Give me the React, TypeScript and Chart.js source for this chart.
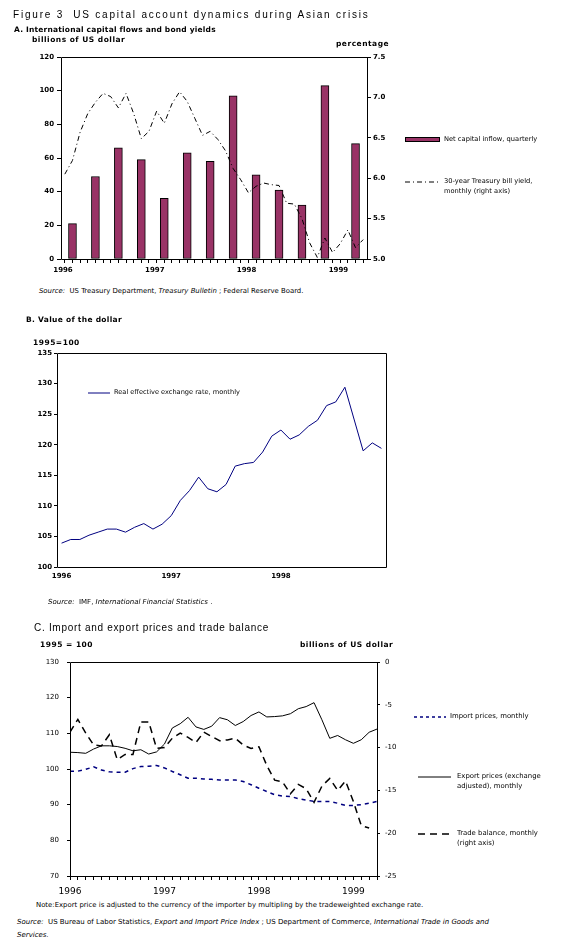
import React, { useEffect, useRef } from 'react';
import { Chart, registerables } from 'chart.js';

Chart.register(...registerables);

const SANS = "'DejaVu Sans', 'Liberation Sans', sans-serif";
const ARIAL = "'Liberation Sans', Arial, sans-serif";

// ---------- Panel A: capital inflows (quarterly bars) and 30-year yield (monthly) ----------
const A_YEAR_LABELS = ['1996', '1997', '1998', '1999'];
// month index counted from January 1996
const A_BAR_MONTHS = [1, 4, 7, 10, 13, 16, 19, 22, 25, 28, 31, 34, 38];
const A_NET_INFLOW = [21, 49, 66, 59, 36, 63, 58, 97, 50, 41, 32, 103, 68.5];
const A_BOND_YIELD = [
  6.05, 6.22, 6.57, 6.8, 6.94, 7.05, 7.01, 6.87, 7.05, 6.8, 6.49, 6.58,
  6.83, 6.68, 6.92, 7.07, 6.95, 6.74, 6.53, 6.58, 6.48, 6.34, 6.12, 5.98,
  5.82, 5.9, 5.94, 5.92, 5.91, 5.69, 5.68, 5.5, 5.2, 5.02, 5.26, 5.08,
  5.19, 5.36, 5.14, 5.24,
];

// ---------- Panel B: real effective exchange rate (monthly, 1996-1998) ----------
const B_YEAR_LABELS = ['1996', '1997', '1998'];
const B_REER = [
  103.9, 104.5, 104.5, 105.2, 105.7, 106.2, 106.2, 105.7, 106.5, 107.1, 106.2, 107.0,
  108.4, 110.9, 112.5, 114.7, 112.8, 112.3, 113.5, 116.5, 116.9, 117.1, 118.8, 121.4,
  122.4, 120.9, 121.6, 123.0, 124.0, 126.4, 127.0, 129.4, 124.2, 119.0, 120.3, 119.4,
];

// ---------- Panel C: import / export prices and trade balance ----------
const C_YEAR_LABELS = ['1996', '1997', '1998', '1999'];
const C_IMPORT = [
  99.4, 99.4, 99.9, 100.6, 99.7, 99.2, 99.1, 99.1, 100.1, 100.7, 100.8, 101.0,
  100.3, 99.3, 98.4, 97.4, 97.4, 97.2, 97.1, 96.9, 96.9, 96.9, 96.5, 95.6,
  94.6, 93.7, 92.8, 92.4, 92.3, 91.7, 91.3, 90.9, 90.9, 90.9, 90.4, 89.8,
  89.8, 90.0, 90.4, 90.9,
];
const C_EXPORT = [
  104.7, 104.6, 104.4, 105.6, 106.5, 106.5, 106.3, 105.8, 105.1, 105.4, 104.2, 104.8,
  107.0, 111.5, 112.7, 114.5, 111.8, 111.1, 112.0, 114.4, 113.8, 112.2, 113.3, 115.0,
  116.0, 114.6, 114.7, 114.9, 115.5, 116.9, 117.5, 118.6, 113.8, 108.6, 109.4, 108.2,
  107.2, 108.2, 110.3, 111.2,
];
const C_TRADE = [
  -8.2, -6.7, -8.3, -9.7, -9.8, -8.5, -11.4, -10.8, -10.8, -7.0, -7.0, -10.1,
  -10.0, -8.9, -8.3, -8.8, -9.4, -8.2, -8.7, -9.2, -9.1, -8.9, -9.7, -10.1,
  -9.9, -12.1, -13.8, -14.0, -15.4, -14.3, -14.8, -16.4, -14.5, -13.6, -15.0, -13.9,
  -16.3, -19.1, -19.4,
];

const framePlugin = {
  id: 'frame',
  afterDraw(chart: any) {
    const { ctx, chartArea: a } = chart;
    const al = (v: number) => Math.round(v - 0.5) + 0.5;
    ctx.save();
    ctx.strokeStyle = '#000';
    ctx.lineWidth = 1;
    ctx.beginPath();
    ctx.rect(al(a.left), al(a.top), al(a.right) - al(a.left), al(a.bottom) - al(a.top));
    ctx.stroke();
    ctx.restore();
  },
};

const baseOpts = {
  responsive: false,
  maintainAspectRatio: false,
  animation: false,
  devicePixelRatio: 1,
  events: [] as any[],
  plugins: { legend: { display: false }, tooltip: { enabled: false } },
};

const tickGrid = (len: number) => ({
  display: true,
  drawOnChartArea: false,
  drawTicks: true,
  tickLength: len,
  color: '#000',
  lineWidth: 1,
});

function makeA(canvas: HTMLCanvasElement) {
  const boundaries: number[] = [];
  for (let k = 0; k <= 40; k++) boundaries.push(k - 0.5);
  return new Chart(canvas, {
    type: 'bar',
    data: {
      datasets: [
        {
          type: 'line',
          label: '30-year Treasury bill yield, monthly (right axis)',
          data: A_BOND_YIELD.map((v, i) => ({ x: i, y: v })),
          yAxisID: 'y1',
          borderColor: '#000',
          borderWidth: 1,
          borderDash: [5, 3, 1, 3],
          pointRadius: 0,
          fill: false,
          tension: 0,
          order: 1,
        } as any,
        {
          type: 'bar',
          label: 'Net capital inflow, quarterly',
          data: A_BAR_MONTHS.map((m, i) => ({ x: m, y: A_NET_INFLOW[i] })),
          yAxisID: 'y',
          backgroundColor: '#993366',
          borderColor: '#000',
          borderWidth: 1,
          borderSkipped: false,
          barThickness: 8,
          grouped: false,
          order: 2,
        } as any,
      ],
    },
    options: {
      ...baseOpts,
      layout: { padding: { top: 57, left: 0, right: 0, bottom: 0 } },
      scales: {
        x: {
          type: 'linear',
          min: -0.5,
          max: 39.5,
          offset: false,
          afterBuildTicks: (s: any) => {
            s.ticks = boundaries.map((v) => ({ value: v }));
          },
          afterFit: (s: any) => {
            s.height = 26;
          },
          ticks: {
            autoSkip: false,
            maxRotation: 0,
            minRotation: 0,
            labelOffset: 2,
            padding: 3,
            color: '#000',
            font: { family: SANS, size: 7, weight: 'bold' },
            callback: (v: any) => {
              const k = Math.round(Number(v) + 0.5);
              return k % 12 === 0 && k / 12 < A_YEAR_LABELS.length ? A_YEAR_LABELS[k / 12] : '';
            },
          },
          grid: tickGrid(4),
          border: { display: false },
        },
        y: {
          type: 'linear',
          position: 'left',
          min: 0,
          max: 120,
          afterFit: (s: any) => {
            s.width = 61;
          },
          ticks: { stepSize: 20, padding: 3, color: '#000', font: { family: SANS, size: 7, weight: 'bold' } },
          grid: tickGrid(4),
          border: { display: false },
        },
        y1: {
          type: 'linear',
          position: 'right',
          min: 5,
          max: 7.5,
          afterFit: (s: any) => {
            s.width = 202;
          },
          ticks: {
            stepSize: 0.5,
            padding: 2,
            color: '#000',
            font: { family: SANS, size: 7, weight: 'bold' },
            callback: (v: any) => Number(v).toFixed(1),
          },
          grid: tickGrid(4),
          border: { display: false },
        },
      },
    } as any,
    plugins: [framePlugin],
  });
}

function makeB(canvas: HTMLCanvasElement) {
  const labels = B_REER.map((_, i) => (i % 12 === 0 ? B_YEAR_LABELS[i / 12] : ''));
  return new Chart(canvas, {
    type: 'line',
    data: {
      labels,
      datasets: [
        {
          label: 'Real effective exchange rate, monthly',
          data: B_REER,
          borderColor: '#000080',
          borderWidth: 1,
          pointRadius: 0,
          fill: false,
          tension: 0,
        },
      ],
    },
    options: {
      ...baseOpts,
      layout: { padding: { top: 53, left: 0, right: 183, bottom: 0 } },
      scales: {
        x: {
          type: 'category',
          offset: true,
          afterFit: (s: any) => {
            s.height = 23;
          },
          ticks: {
            autoSkip: false,
            maxRotation: 0,
            minRotation: 0,
            padding: 5,
            color: '#000',
            font: { family: SANS, size: 7, weight: 'bold' },
          },
          grid: { display: false, drawTicks: false, tickLength: 0 },
          border: { display: false },
        },
        y: {
          min: 100,
          max: 135,
          afterFit: (s: any) => {
            s.width = 57;
          },
          ticks: { stepSize: 5, padding: 2, color: '#000', font: { family: SANS, size: 7, weight: 'bold' } },
          grid: tickGrid(3),
          border: { display: false },
        },
      },
    } as any,
    plugins: [framePlugin],
  });
}

function makeC(canvas: HTMLCanvasElement) {
  const monthTicks: number[] = [];
  for (let k = 0; k < C_EXPORT.length; k++) monthTicks.push(k);
  return new Chart(canvas, {
    type: 'line',
    data: {
      datasets: [
        {
          label: 'Import prices, monthly',
          data: C_IMPORT.map((v, i) => ({ x: i, y: v })),
          yAxisID: 'y',
          borderColor: '#000080',
          borderWidth: 1.5,
          borderDash: [4, 4],
          pointRadius: 0,
          fill: false,
          tension: 0,
        },
        {
          label: 'Export prices (exchange adjusted), monthly',
          data: C_EXPORT.map((v, i) => ({ x: i, y: v })),
          yAxisID: 'y',
          borderColor: '#000',
          borderWidth: 1,
          pointRadius: 0,
          fill: false,
          tension: 0,
        },
        {
          label: 'Trade balance, monthly (right axis)',
          data: C_TRADE.map((v, i) => ({ x: i, y: v })),
          yAxisID: 'y1',
          borderColor: '#000',
          borderWidth: 1.5,
          borderDash: [7, 5],
          pointRadius: 0,
          fill: false,
          tension: 0,
        },
      ],
    },
    options: {
      ...baseOpts,
      layout: { padding: { top: 62, left: 0, right: 0, bottom: 0 } },
      scales: {
        x: {
          type: 'linear',
          min: 0,
          max: 39,
          offset: false,
          afterBuildTicks: (s: any) => {
            s.ticks = monthTicks.map((v) => ({ value: v }));
          },
          afterFit: (s: any) => {
            s.height = 24;
          },
          ticks: {
            autoSkip: false,
            maxRotation: 0,
            minRotation: 0,
            padding: 6,
            color: '#000',
            font: { family: SANS, size: 9 },
            callback: (v: any) => {
              const k = Math.round(Number(v));
              return k % 12 === 0 && k / 12 < C_YEAR_LABELS.length ? C_YEAR_LABELS[k / 12] : '';
            },
          },
          grid: tickGrid(4),
          border: { display: false },
        },
        y: {
          type: 'linear',
          position: 'left',
          min: 70,
          max: 130,
          afterFit: (s: any) => {
            s.width = 70;
          },
          ticks: { stepSize: 10, padding: 8, color: '#000', font: { family: SANS, size: 7 } },
          grid: tickGrid(3),
          border: { display: false },
        },
        y1: {
          type: 'linear',
          position: 'right',
          min: -25,
          max: 0,
          afterFit: (s: any) => {
            s.width = 192;
          },
          ticks: { stepSize: 5, padding: 5, color: '#000', font: { family: SANS, size: 7 } },
          grid: tickGrid(3),
          border: { display: false },
        },
      },
    } as any,
    plugins: [framePlugin],
  });
}

type TxtProps = {
  x: number;
  cy: number;
  size: number;
  bold?: boolean;
  family?: string;
  spacing?: number;
  children: React.ReactNode;
};

const Txt = ({ x, cy, size, bold, family, spacing, children }: TxtProps) => (
  <div
    style={{
      position: 'absolute',
      left: x,
      top: cy - size * 0.52,
      fontSize: size,
      lineHeight: `${size}px`,
      fontFamily: family || SANS,
      fontWeight: bold ? 'bold' : 'normal',
      letterSpacing: spacing ? `${spacing}px` : undefined,
      whiteSpace: 'nowrap',
      color: '#000',
    }}
  >
    {children}
  </div>
);

const Line = ({ x, y, w, color, width, dash }: { x: number; y: number; w: number; color: string; width: number; dash?: string }) => (
  <svg style={{ position: 'absolute', left: x, top: y - 3 }} width={w} height={6}>
    <line x1={0} y1={3} x2={w} y2={3} stroke={color} strokeWidth={width} strokeDasharray={dash} />
  </svg>
);

export default function App() {
  const refA = useRef<HTMLCanvasElement>(null);
  const refB = useRef<HTMLCanvasElement>(null);
  const refC = useRef<HTMLCanvasElement>(null);

  useEffect(() => {
    const a = makeA(refA.current!);
    const b = makeB(refB.current!);
    const c = makeC(refC.current!);
    return () => {
      a.destroy();
      b.destroy();
      c.destroy();
    };
  }, []);

  const it = { fontStyle: 'italic' } as React.CSSProperties;

  return (
    <div style={{ position: 'absolute', left: 0, top: 0, width: 569, height: 948, background: '#fff', overflow: 'hidden' }}>
      <canvas ref={refA} width={569} height={285} style={{ position: 'absolute', left: 0, top: 0, width: 569, height: 285 }} />
      <canvas ref={refB} width={569} height={290} style={{ position: 'absolute', left: 0, top: 300, width: 569, height: 290 }} />
      <canvas ref={refC} width={569} height={300} style={{ position: 'absolute', left: 0, top: 600, width: 569, height: 300 }} />

      {/* Figure title */}
      <Txt x={13} cy={15.5} size={10} family={ARIAL} spacing={1.8}>
        Figure 3&nbsp; US capital account dynamics during Asian crisis
      </Txt>

      {/* Panel A texts */}
      <Txt x={14} cy={29.8} size={7.5} bold spacing={0.2}>
        A. International capital flows and bond yields
      </Txt>
      <Txt x={32} cy={39.5} size={7.5} bold spacing={0.5}>
        billions of US dollar
      </Txt>
      <Txt x={336} cy={44} size={7.5} bold spacing={0.5}>
        percentage
      </Txt>
      <div style={{ position: 'absolute', left: 405, top: 137, width: 35, height: 5, background: '#993366', border: '1px solid #000', boxSizing: 'border-box' }} />
      <Txt x={444} cy={139.5} size={6.7}>
        Net capital inflow, quarterly
      </Txt>
      <Line x={405} y={181.5} w={35} color="#000" width={1} dash="5 3 1 3" />
      <Txt x={444} cy={181} size={6.7}>
        30-year Treasury bill yield,
      </Txt>
      <Txt x={444} cy={191} size={6.7}>
        monthly (right axis)
      </Txt>
      <Txt x={39} cy={292} size={6.9}>
        <span style={it}>Source:</span>&nbsp; US Treasury Department, <span style={it}>Treasury Bulletin</span> ; Federal Reserve Board.
      </Txt>

      {/* Panel B texts */}
      <Txt x={26} cy={320} size={7.5} bold spacing={0.3}>
        B. Value of the dollar
      </Txt>
      <Txt x={33} cy={343} size={7.5} bold spacing={0.5}>
        1995=100
      </Txt>
      <Line x={88} y={393} w={22} color="#000080" width={1} />
      <Txt x={114} cy={392.5} size={6.6}>
        Real effective exchange rate, monthly
      </Txt>
      <Txt x={48} cy={603} size={7}>
        <span style={it}>Source:</span>&nbsp; IMF, <span style={it}>International Financial Statistics</span> .
      </Txt>

      {/* Panel C texts */}
      <Txt x={34} cy={628} size={10} family={ARIAL} spacing={0.7}>
        C. Import and export prices and trade balance
      </Txt>
      <Txt x={40} cy={645} size={7.5} bold spacing={0.5}>
        1995 = 100
      </Txt>
      <Txt x={300} cy={645} size={7.5} bold spacing={0.5}>
        billions of US dollar
      </Txt>
      <Line x={414} y={717} w={32} color="#000080" width={1.5} dash="3 3" />
      <Txt x={450} cy={717} size={6.9}>
        Import prices, monthly
      </Txt>
      <Line x={418} y={777} w={33} color="#000" width={1} />
      <Txt x={457} cy={777} size={6.9}>
        Export prices (exchange
      </Txt>
      <Txt x={457} cy={787} size={6.9}>
        adjusted), monthly
      </Txt>
      <Line x={418} y={834} w={34} color="#000" width={1.5} dash="7 5" />
      <Txt x={457} cy={834} size={6.9}>
        Trade balance, monthly
      </Txt>
      <Txt x={457} cy={844} size={6.9}>
        (right axis)
      </Txt>
      <Txt x={36} cy={905.5} size={6.9}>
        Note:Export price is adjusted to the currency of the importer by multipling by the tradeweighted exchange rate.
      </Txt>
      <Txt x={17} cy={923} size={7}>
        <span style={it}>Source:</span>&nbsp; US Bureau of Labor Statistics, <span style={it}>Export and Import Price Index</span> ; US Department of Commerce,{' '}
        <span style={it}>International Trade in Goods and</span>
      </Txt>
      <Txt x={17} cy={935.5} size={7}>
        <span style={it}>Services.</span>
      </Txt>
    </div>
  );
}
